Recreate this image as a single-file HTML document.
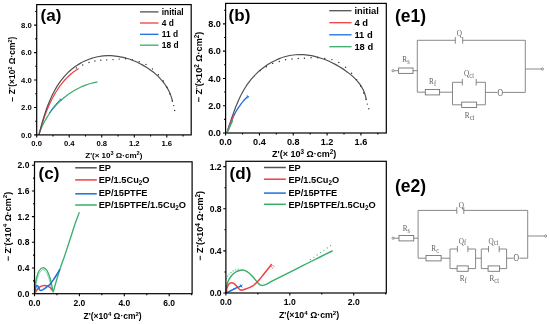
<!DOCTYPE html>
<html lang="en">
<head>
<meta charset="utf-8">
<title>EIS Nyquist plots and equivalent circuits</title>
<style>
html,body{margin:0;padding:0;background:#fff;}
svg{display:block;}
</style>
</head>
<body>
<svg width="550" height="324" viewBox="0 0 550 324">
<rect width="550" height="324" fill="#fff"/>
<g id="pa">
<path d="M39.07 134.24 C39.23 133.79 39.68 132.45 40.01 131.57 C40.34 130.69 40.68 129.81 41.04 128.94 C41.4 128.07 41.78 127.2 42.17 126.34 C42.56 125.49 42.96 124.63 43.38 123.79 C43.8 122.95 44.24 122.11 44.69 121.28 C45.13 120.45 45.6 119.63 46.08 118.82 C46.55 118 47.05 117.2 47.55 116.4 C48.06 115.61 48.58 114.82 49.11 114.04 C49.64 113.27 50.19 112.5 50.75 111.74 C51.31 110.98 51.88 110.23 52.46 109.49 C53.05 108.76 53.65 108.03 54.26 107.31 C54.87 106.59 55.49 105.89 56.12 105.19 C56.76 104.5 57.4 103.81 58.06 103.14 C58.72 102.47 59.39 101.81 60.07 101.16 C60.75 100.51 61.44 99.88 62.14 99.26 C62.85 98.63 63.56 98.02 64.29 97.43 C65.01 96.83 65.75 96.25 66.49 95.68 C67.24 95.11 67.99 94.55 68.76 94.01 C69.52 93.47 70.3 92.94 71.08 92.43 C71.87 91.92 72.66 91.42 73.46 90.94 C74.27 90.46 75.08 89.99 75.9 89.54 C76.72 89.09 77.55 88.66 78.39 88.24 C79.23 87.82 80.08 87.42 80.93 87.03 C81.79 86.65 82.65 86.28 83.52 85.93 C84.4 85.58 85.27 85.24 86.16 84.93 C87.05 84.61 87.94 84.31 88.84 84.03 C89.74 83.76 90.65 83.49 91.56 83.25 C92.48 83.01 93.4 82.78 94.33 82.58 C95.26 82.38 96.66 82.12 97.13 82.03" fill="none" stroke="#37AD6B" stroke-width="1.2" stroke-linecap="round" stroke-linejoin="round"/>
<path d="M49.6 112.6 C50.3 111.63 52.47 108.5 53.8 106.8 C55.13 105.1 56.53 103.6 57.6 102.4 C58.67 101.2 59.77 100.07 60.2 99.6" fill="none" stroke="#1A6FDF" stroke-width="1.0" stroke-linecap="round" stroke-linejoin="round"/>
<path d="M59.4 98.9 l1.8 0.4 l-0.4 1.6" stroke="#1A6FDF" stroke-width="0.7" fill="none"/>
<path d="M39.01 134.13 C39.13 133.72 39.49 132.46 39.74 131.62 C39.98 130.78 40.23 129.94 40.49 129.09 C40.74 128.25 41 127.4 41.26 126.55 C41.53 125.7 41.79 124.85 42.06 124 C42.34 123.15 42.61 122.29 42.89 121.44 C43.18 120.59 43.46 119.73 43.75 118.88 C44.05 118.03 44.34 117.18 44.65 116.33 C44.95 115.47 45.26 114.62 45.58 113.78 C45.9 112.93 46.22 112.08 46.55 111.24 C46.88 110.39 47.22 109.55 47.56 108.71 C47.91 107.87 48.26 107.04 48.62 106.2 C48.98 105.37 49.35 104.54 49.73 103.72 C50.1 102.9 50.49 102.08 50.88 101.26 C51.27 100.45 51.67 99.64 52.09 98.84 C52.5 98.03 52.92 97.23 53.35 96.44 C53.78 95.65 54.22 94.87 54.67 94.09 C55.11 93.31 55.57 92.54 56.04 91.78 C56.51 91.01 56.99 90.26 57.49 89.51 C57.98 88.76 58.48 88.02 58.99 87.29 C59.51 86.56 60.03 85.84 60.57 85.13 C61.11 84.42 61.65 83.72 62.22 83.03 C62.78 82.34 63.35 81.66 63.94 80.99 C64.52 80.32 65.12 79.66 65.73 79.01 C66.34 78.36 66.97 77.73 67.61 77.11 C68.24 76.48 68.9 75.87 69.56 75.27 C70.23 74.68 70.91 74.09 71.6 73.52 C72.3 72.95 73.01 72.39 73.73 71.85 C74.45 71.31 75.19 70.78 75.94 70.26 C76.7 69.75 77.87 69.02 78.25 68.77" fill="none" stroke="#F14040" stroke-width="1.2" stroke-linecap="round" stroke-linejoin="round"/>
<path d="M39.18 134.07 C39.34 133.46 39.79 131.63 40.11 130.39 C40.43 129.15 40.75 127.9 41.09 126.64 C41.43 125.38 41.77 124.1 42.13 122.82 C42.49 121.55 42.86 120.26 43.25 118.97 C43.63 117.68 44.03 116.39 44.44 115.09 C44.86 113.8 45.28 112.5 45.72 111.21 C46.17 109.91 46.62 108.62 47.1 107.33 C47.57 106.04 48.07 104.75 48.58 103.48 C49.09 102.2 49.62 100.93 50.17 99.66 C50.72 98.4 51.29 97.15 51.88 95.91 C52.47 94.67 53.08 93.44 53.71 92.23 C54.35 91.02 55 89.82 55.68 88.65 C56.36 87.47 57.07 86.31 57.8 85.17 C58.53 84.03 59.28 82.91 60.07 81.81 C60.85 80.72 61.65 79.64 62.49 78.6 C63.33 77.55 64.19 76.53 65.08 75.54 C65.98 74.55 66.9 73.59 67.85 72.66 C68.81 71.73 69.79 70.83 70.81 69.97 C71.82 69.1 72.86 68.27 73.93 67.47 C75 66.68 76.09 65.92 77.21 65.19 C78.33 64.47 79.47 63.78 80.64 63.14 C81.8 62.49 82.98 61.88 84.19 61.31 C85.39 60.74 86.61 60.21 87.85 59.72 C89.09 59.23 90.34 58.78 91.61 58.38 C92.87 57.97 94.16 57.61 95.45 57.29 C96.74 56.98 98.04 56.7 99.35 56.48 C100.66 56.25 101.98 56.07 103.3 55.94 C104.63 55.81 105.96 55.73 107.29 55.69 C108.62 55.65 109.96 55.67 111.3 55.72 C112.64 55.78 113.98 55.88 115.31 56.03 C116.65 56.18 117.98 56.37 119.31 56.6 C120.64 56.83 121.97 57.1 123.29 57.42 C124.61 57.73 125.93 58.08 127.24 58.47 C128.54 58.86 129.84 59.29 131.13 59.76 C132.41 60.22 133.69 60.72 134.95 61.25 C136.21 61.79 137.46 62.36 138.69 62.96 C139.92 63.56 141.14 64.19 142.34 64.85 C143.54 65.51 144.72 66.21 145.88 66.92 C147.04 67.64 148.18 68.39 149.3 69.17 C150.41 69.95 151.5 70.75 152.57 71.58 C153.63 72.42 154.67 73.28 155.68 74.16 C156.68 75.05 157.66 75.97 158.61 76.91 C159.55 77.86 160.46 78.83 161.33 79.83 C162.21 80.82 163.05 81.85 163.84 82.91 C164.64 83.96 165.4 85.04 166.11 86.15 C166.82 87.26 167.49 88.4 168.12 89.56 C168.74 90.72 169.32 91.91 169.85 93.13 C170.38 94.35 170.86 95.59 171.28 96.87 C171.71 98.14 172.21 100.12 172.4 100.77" fill="none" stroke="#515151" stroke-width="1.2" stroke-linecap="round" stroke-linejoin="round"/>
<circle cx="76.4" cy="67.9" r="0.68" fill="#2a2a2a"/>
<circle cx="82.7" cy="65" r="0.68" fill="#2a2a2a"/>
<circle cx="89" cy="62.5" r="0.68" fill="#2a2a2a"/>
<circle cx="94.9" cy="61" r="0.68" fill="#2a2a2a"/>
<circle cx="100.8" cy="60.3" r="0.68" fill="#2a2a2a"/>
<circle cx="106.7" cy="59.9" r="0.68" fill="#2a2a2a"/>
<circle cx="113" cy="59.6" r="0.68" fill="#2a2a2a"/>
<circle cx="119.2" cy="59.1" r="0.68" fill="#2a2a2a"/>
<circle cx="125.6" cy="58.8" r="0.68" fill="#2a2a2a"/>
<circle cx="132.2" cy="59.6" r="0.68" fill="#2a2a2a"/>
<circle cx="139.2" cy="61.8" r="0.68" fill="#2a2a2a"/>
<circle cx="146" cy="64.4" r="0.68" fill="#2a2a2a"/>
<circle cx="152.5" cy="68.9" r="0.68" fill="#2a2a2a"/>
<circle cx="158.4" cy="74.8" r="0.68" fill="#2a2a2a"/>
<circle cx="163.3" cy="81" r="0.68" fill="#2a2a2a"/>
<circle cx="166.9" cy="87.2" r="0.68" fill="#2a2a2a"/>
<circle cx="169.9" cy="94" r="0.68" fill="#2a2a2a"/>
<circle cx="172.3" cy="101.2" r="0.68" fill="#2a2a2a"/>
<circle cx="173.7" cy="105.6" r="0.68" fill="#2a2a2a"/>
<circle cx="174.7" cy="110.5" r="0.68" fill="#2a2a2a"/>
<rect x="36.7" y="4.6" width="154.5" height="130.3" fill="none" stroke="#000" stroke-width="1.2"/>
<path d="M36.7 134.9 v2.6 M69.23 134.9 v2.6 M101.75 134.9 v2.6 M134.28 134.9 v2.6 M166.81 134.9 v2.6 M52.96 134.9 v1.5 M85.49 134.9 v1.5 M118.02 134.9 v1.5 M150.54 134.9 v1.5 M183.07 134.9 v1.5 " stroke="#000" stroke-width="1.1" fill="none"/>
<text x="36.7" y="146.1" font-family="'Liberation Sans', Arial, sans-serif" font-size="7.7" font-weight="bold" fill="#000" text-anchor="middle">0.0</text>
<text x="69.23" y="146.1" font-family="'Liberation Sans', Arial, sans-serif" font-size="7.7" font-weight="bold" fill="#000" text-anchor="middle">0.4</text>
<text x="101.75" y="146.1" font-family="'Liberation Sans', Arial, sans-serif" font-size="7.7" font-weight="bold" fill="#000" text-anchor="middle">0.8</text>
<text x="134.28" y="146.1" font-family="'Liberation Sans', Arial, sans-serif" font-size="7.7" font-weight="bold" fill="#000" text-anchor="middle">1.2</text>
<text x="166.81" y="146.1" font-family="'Liberation Sans', Arial, sans-serif" font-size="7.7" font-weight="bold" fill="#000" text-anchor="middle">1.6</text>
<path d="M36.7 134.9 h-2.6 M36.7 107.47 h-2.6 M36.7 80.04 h-2.6 M36.7 52.61 h-2.6 M36.7 25.17 h-2.6 M36.7 121.18 h-1.5 M36.7 93.75 h-1.5 M36.7 66.32 h-1.5 M36.7 38.89 h-1.5 M36.7 11.46 h-1.5 " stroke="#000" stroke-width="1.1" fill="none"/>
<text x="31.8" y="137.66" font-family="'Liberation Sans', Arial, sans-serif" font-size="7.7" font-weight="bold" fill="#000" text-anchor="end">0.0</text>
<text x="31.8" y="110.23" font-family="'Liberation Sans', Arial, sans-serif" font-size="7.7" font-weight="bold" fill="#000" text-anchor="end">2.0</text>
<text x="31.8" y="82.79" font-family="'Liberation Sans', Arial, sans-serif" font-size="7.7" font-weight="bold" fill="#000" text-anchor="end">4.0</text>
<text x="31.8" y="55.36" font-family="'Liberation Sans', Arial, sans-serif" font-size="7.7" font-weight="bold" fill="#000" text-anchor="end">6.0</text>
<text x="31.8" y="27.93" font-family="'Liberation Sans', Arial, sans-serif" font-size="7.7" font-weight="bold" fill="#000" text-anchor="end">8.0</text>
<text x="40.6" y="20.7" font-family="'Liberation Sans', Arial, sans-serif" font-size="17" font-weight="bold" fill="#000" text-anchor="start">(a)</text>
<line x1="140" y1="11.9" x2="158.5" y2="11.9" stroke="#515151" stroke-width="1.3"/>
<text x="161.8" y="14.9" font-family="'Liberation Sans', Arial, sans-serif" font-size="8.4" font-weight="bold" fill="#000" text-anchor="start">initial</text>
<line x1="140" y1="23" x2="158.5" y2="23" stroke="#F14040" stroke-width="1.3"/>
<text x="161.8" y="26" font-family="'Liberation Sans', Arial, sans-serif" font-size="8.4" font-weight="bold" fill="#000" text-anchor="start">4 d</text>
<line x1="140" y1="34.3" x2="158.5" y2="34.3" stroke="#1A6FDF" stroke-width="1.3"/>
<text x="161.8" y="37.3" font-family="'Liberation Sans', Arial, sans-serif" font-size="8.4" font-weight="bold" fill="#000" text-anchor="start">11 d</text>
<line x1="140" y1="45.2" x2="158.5" y2="45.2" stroke="#37AD6B" stroke-width="1.3"/>
<text x="161.8" y="48.2" font-family="'Liberation Sans', Arial, sans-serif" font-size="8.4" font-weight="bold" fill="#000" text-anchor="start">18 d</text>
<text x="113.8" y="157.6" font-family="'Liberation Sans', Arial, sans-serif" font-size="8" font-weight="bold" fill="#000" text-anchor="middle">Z'(× 10<tspan font-size="5.6" dy="-2.8">3</tspan><tspan dy="2.8"> Ω·cm<tspan font-size="5.6" dy="-2.8">2</tspan><tspan dy="2.8">)</tspan></tspan></text>
<g transform="translate(15.2 69) rotate(-90)">
<text x="0" y="0" font-family="'Liberation Sans', Arial, sans-serif" font-size="8.35" font-weight="bold" fill="#000" text-anchor="middle">− Z<tspan font-size="5.68" dy="-1.92">''</tspan><tspan dy="1.92" dx="-0.25">(</tspan>×10<tspan font-size="5.84" dy="-2.92">2</tspan><tspan dy="2.92"> Ω·cm<tspan font-size="5.84" dy="-2.92">2</tspan><tspan dy="2.92">)</tspan></tspan></text>
</g>
</g>
<g id="pb">
<path d="M227.36 131.55 C227.56 130.92 228.16 129.03 228.56 127.75 C228.96 126.48 229.37 125.2 229.78 123.92 C230.19 122.64 230.61 121.35 231.03 120.07 C231.45 118.78 231.88 117.49 232.33 116.2 C232.77 114.92 233.22 113.63 233.68 112.35 C234.15 111.06 234.62 109.78 235.11 108.5 C235.6 107.23 236.1 105.96 236.62 104.69 C237.14 103.43 237.68 102.17 238.23 100.93 C238.79 99.68 239.36 98.44 239.95 97.21 C240.55 95.99 241.16 94.77 241.8 93.57 C242.44 92.37 243.1 91.18 243.79 90.01 C244.47 88.83 245.18 87.68 245.92 86.54 C246.66 85.4 247.42 84.28 248.22 83.18 C249.01 82.08 249.84 81 250.69 79.94 C251.55 78.88 252.44 77.84 253.35 76.83 C254.27 75.82 255.22 74.83 256.19 73.87 C257.17 72.91 258.17 71.98 259.2 71.07 C260.22 70.17 261.28 69.29 262.35 68.44 C263.43 67.6 264.53 66.78 265.65 66 C266.77 65.22 267.91 64.47 269.07 63.76 C270.23 63.05 271.41 62.37 272.61 61.73 C273.8 61.09 275.02 60.49 276.25 59.93 C277.48 59.37 278.72 58.84 279.98 58.36 C281.23 57.88 282.51 57.44 283.79 57.05 C285.07 56.65 286.36 56.3 287.66 56 C288.96 55.7 290.27 55.44 291.59 55.23 C292.9 55.02 294.22 54.86 295.55 54.75 C296.88 54.64 298.21 54.58 299.55 54.57 C300.88 54.56 302.22 54.6 303.56 54.68 C304.89 54.76 306.24 54.89 307.57 55.06 C308.91 55.23 310.25 55.45 311.58 55.7 C312.92 55.96 314.25 56.25 315.57 56.59 C316.9 56.92 318.22 57.29 319.53 57.7 C320.85 58.11 322.16 58.55 323.45 59.03 C324.75 59.5 326.04 60.01 327.32 60.55 C328.6 61.09 329.87 61.67 331.12 62.27 C332.38 62.86 333.62 63.49 334.85 64.15 C336.08 64.8 337.29 65.48 338.49 66.19 C339.68 66.89 340.86 67.62 342.03 68.37 C343.19 69.11 344.33 69.88 345.45 70.67 C346.58 71.46 347.68 72.27 348.75 73.1 C349.83 73.93 350.88 74.78 351.89 75.67 C352.9 76.55 353.89 77.45 354.83 78.39 C355.77 79.33 356.67 80.29 357.53 81.29 C358.38 82.29 359.2 83.32 359.96 84.39 C360.71 85.46 361.42 86.57 362.07 87.71 C362.72 88.86 363.32 90.04 363.84 91.27 C364.37 92.5 364.84 93.77 365.23 95.09 C365.62 96.41 366.04 98.51 366.2 99.19" fill="none" stroke="#515151" stroke-width="1.2" stroke-linecap="round" stroke-linejoin="round"/>
<path d="M227.31 131.61 C227.42 131.27 227.77 130.24 228 129.56 C228.24 128.88 228.48 128.2 228.73 127.53 C228.97 126.85 229.23 126.17 229.48 125.5 C229.74 124.82 230 124.15 230.27 123.48 C230.54 122.81 230.82 122.14 231.1 121.47 C231.38 120.81 231.67 120.14 231.97 119.48 C232.26 118.82 232.56 118.17 232.87 117.51 C233.18 116.86 233.5 116.21 233.82 115.57 C234.15 114.92 234.48 114.28 234.82 113.64 C235.16 113.01 235.51 112.38 235.86 111.75 C236.22 111.13 236.58 110.51 236.96 109.89 C237.33 109.28 237.71 108.67 238.1 108.06 C238.49 107.46 238.89 106.86 239.3 106.27 C239.71 105.68 240.13 105.1 240.56 104.52 C240.99 103.95 241.43 103.38 241.88 102.81 C242.33 102.25 242.79 101.7 243.26 101.15 C243.73 100.61 244.21 100.07 244.7 99.54 C245.2 99.01 245.7 98.49 246.21 97.98 C246.73 97.47 247.53 96.72 247.79 96.47" fill="none" stroke="#1A6FDF" stroke-width="1.3" stroke-linecap="round" stroke-linejoin="round"/>
<path d="M227.4 131.6 C227.97 130.17 229.72 125.78 230.8 123 C231.88 120.22 233.38 116.25 233.9 114.9" fill="none" stroke="#F14040" stroke-width="1.3" stroke-linecap="round" stroke-linejoin="round"/>
<path d="M227.6 131.8 C228.03 130.83 229.38 127.83 230.2 126 C231.02 124.17 232.12 121.67 232.5 120.8" fill="none" stroke="#37AD6B" stroke-width="1.4" stroke-linecap="round" stroke-linejoin="round"/>
<circle cx="260.2" cy="70.6" r="0.68" fill="#2a2a2a"/>
<circle cx="266.4" cy="66.7" r="0.68" fill="#2a2a2a"/>
<circle cx="272.7" cy="63.4" r="0.68" fill="#2a2a2a"/>
<circle cx="279.3" cy="61.5" r="0.68" fill="#2a2a2a"/>
<circle cx="285.6" cy="59.7" r="0.68" fill="#2a2a2a"/>
<circle cx="292" cy="59" r="0.68" fill="#2a2a2a"/>
<circle cx="298.2" cy="58.5" r="0.68" fill="#2a2a2a"/>
<circle cx="304.4" cy="58.2" r="0.68" fill="#2a2a2a"/>
<circle cx="311.1" cy="57.8" r="0.68" fill="#2a2a2a"/>
<circle cx="317.8" cy="57.8" r="0.68" fill="#2a2a2a"/>
<circle cx="324.8" cy="58.4" r="0.68" fill="#2a2a2a"/>
<circle cx="331.9" cy="59.6" r="0.68" fill="#2a2a2a"/>
<circle cx="338.8" cy="62.5" r="0.68" fill="#2a2a2a"/>
<circle cx="345.6" cy="67.3" r="0.68" fill="#2a2a2a"/>
<circle cx="351.6" cy="73.3" r="0.68" fill="#2a2a2a"/>
<circle cx="356.6" cy="79.6" r="0.68" fill="#2a2a2a"/>
<circle cx="360.6" cy="86" r="0.68" fill="#2a2a2a"/>
<circle cx="363.6" cy="93" r="0.68" fill="#2a2a2a"/>
<circle cx="366" cy="99.5" r="0.68" fill="#2a2a2a"/>
<circle cx="367.3" cy="104.1" r="0.68" fill="#2a2a2a"/>
<circle cx="368.8" cy="108.8" r="0.68" fill="#2a2a2a"/>
<path d="M246.6 95.4 l2.2 1.2 l-1.2 1.8" stroke="#1A6FDF" stroke-width="0.7" fill="none"/>
<rect x="225.6" y="3.4" width="160.7" height="129.6" fill="none" stroke="#000" stroke-width="1.2"/>
<path d="M225.6 133 v2.6 M259.43 133 v2.6 M293.26 133 v2.6 M327.09 133 v2.6 M360.93 133 v2.6 M242.52 133 v1.5 M276.35 133 v1.5 M310.18 133 v1.5 M344.01 133 v1.5 M377.84 133 v1.5 " stroke="#000" stroke-width="1.1" fill="none"/>
<text x="225.6" y="145.3" font-family="'Liberation Sans', Arial, sans-serif" font-size="9.1" font-weight="bold" fill="#000" text-anchor="middle">0.0</text>
<text x="259.43" y="145.3" font-family="'Liberation Sans', Arial, sans-serif" font-size="9.1" font-weight="bold" fill="#000" text-anchor="middle">0.4</text>
<text x="293.26" y="145.3" font-family="'Liberation Sans', Arial, sans-serif" font-size="9.1" font-weight="bold" fill="#000" text-anchor="middle">0.8</text>
<text x="327.09" y="145.3" font-family="'Liberation Sans', Arial, sans-serif" font-size="9.1" font-weight="bold" fill="#000" text-anchor="middle">1.2</text>
<text x="360.93" y="145.3" font-family="'Liberation Sans', Arial, sans-serif" font-size="9.1" font-weight="bold" fill="#000" text-anchor="middle">1.6</text>
<path d="M225.6 133 h-2.6 M225.6 105.72 h-2.6 M225.6 78.43 h-2.6 M225.6 51.15 h-2.6 M225.6 23.86 h-2.6 M225.6 119.36 h-1.5 M225.6 92.07 h-1.5 M225.6 64.79 h-1.5 M225.6 37.51 h-1.5 M225.6 10.22 h-1.5 " stroke="#000" stroke-width="1.1" fill="none"/>
<text x="220.8" y="136.26" font-family="'Liberation Sans', Arial, sans-serif" font-size="9.1" font-weight="bold" fill="#000" text-anchor="end">0.0</text>
<text x="220.8" y="108.97" font-family="'Liberation Sans', Arial, sans-serif" font-size="9.1" font-weight="bold" fill="#000" text-anchor="end">2.0</text>
<text x="220.8" y="81.69" font-family="'Liberation Sans', Arial, sans-serif" font-size="9.1" font-weight="bold" fill="#000" text-anchor="end">4.0</text>
<text x="220.8" y="54.41" font-family="'Liberation Sans', Arial, sans-serif" font-size="9.1" font-weight="bold" fill="#000" text-anchor="end">6.0</text>
<text x="220.8" y="27.12" font-family="'Liberation Sans', Arial, sans-serif" font-size="9.1" font-weight="bold" fill="#000" text-anchor="end">8.0</text>
<text x="228.6" y="20.7" font-family="'Liberation Sans', Arial, sans-serif" font-size="17" font-weight="bold" fill="#000" text-anchor="start">(b)</text>
<line x1="329.3" y1="10.7" x2="351.5" y2="10.7" stroke="#515151" stroke-width="1.3"/>
<text x="354.4" y="14.1" font-family="'Liberation Sans', Arial, sans-serif" font-size="9.4" font-weight="bold" fill="#000" text-anchor="start">initial</text>
<line x1="329.3" y1="22.7" x2="351.5" y2="22.7" stroke="#F14040" stroke-width="1.3"/>
<text x="354.4" y="26.1" font-family="'Liberation Sans', Arial, sans-serif" font-size="9.4" font-weight="bold" fill="#000" text-anchor="start">4 d</text>
<line x1="329.3" y1="34.8" x2="351.5" y2="34.8" stroke="#1A6FDF" stroke-width="1.3"/>
<text x="354.4" y="38.2" font-family="'Liberation Sans', Arial, sans-serif" font-size="9.4" font-weight="bold" fill="#000" text-anchor="start">11 d</text>
<line x1="329.3" y1="46.7" x2="351.5" y2="46.7" stroke="#37AD6B" stroke-width="1.3"/>
<text x="354.4" y="50.1" font-family="'Liberation Sans', Arial, sans-serif" font-size="9.4" font-weight="bold" fill="#000" text-anchor="start">18 d</text>
<text x="304.2" y="157.4" font-family="'Liberation Sans', Arial, sans-serif" font-size="9" font-weight="bold" fill="#000" text-anchor="middle">Z'(× 10<tspan font-size="6.3" dy="-3.15">3</tspan><tspan dy="3.15"> Ω·cm<tspan font-size="6.3" dy="-3.15">2</tspan><tspan dy="3.15">)</tspan></tspan></text>
<g transform="translate(202.3 67) rotate(-90)">
<text x="0" y="0" font-family="'Liberation Sans', Arial, sans-serif" font-size="9.1" font-weight="bold" fill="#000" text-anchor="middle">− Z<tspan font-size="6.19" dy="-2.09">''</tspan><tspan dy="2.09" dx="-0.27">(</tspan>×10<tspan font-size="6.37" dy="-3.18">2</tspan><tspan dy="3.18"> Ω·cm<tspan font-size="6.37" dy="-3.18">2</tspan><tspan dy="3.18">)</tspan></tspan></text>
</g>
</g>
<g id="pc">
<path d="M35.6 288 C35.8 286.75 36.2 282.92 36.8 280.5 C37.4 278.08 38.17 275.32 39.2 273.5 C40.23 271.68 41.77 269.77 43 269.6 C44.23 269.43 45.57 270.85 46.6 272.5 C47.63 274.15 48.47 277.17 49.2 279.5 C49.93 281.83 50.48 284.58 51 286.5 C51.52 288.42 52.08 290.25 52.3 291" fill="none" stroke="#37AD6B" stroke-width="0.9" stroke-linecap="round" stroke-linejoin="round" stroke-dasharray="0.1 1.2"/>
<path d="M34.9 292.5 C34.97 291.25 35.02 287.5 35.3 285 C35.58 282.5 35.98 279.83 36.6 277.5 C37.22 275.17 37.93 272.65 39 271 C40.07 269.35 41.67 267.68 43 267.6 C44.33 267.52 45.83 268.77 47 270.5 C48.17 272.23 49.17 275.33 50 278 C50.83 280.67 51.47 284.17 52 286.5 C52.53 288.83 52.77 291.92 53.2 292 C53.63 292.08 53.88 289.5 54.6 287 C55.32 284.5 56.43 280.5 57.5 277 C58.57 273.5 59.82 269.5 61 266 C62.18 262.5 63.1 260.42 64.6 256 C66.1 251.58 68.27 244.83 70 239.5 C71.73 234.17 73.47 228.48 75 224 C76.53 219.52 78.5 214.5 79.2 212.6" fill="none" stroke="#37AD6B" stroke-width="1.3" stroke-linecap="round" stroke-linejoin="round"/>
<path d="M35.2 292.6 C35.42 292.25 35.87 291.33 36.5 290.5 C37.13 289.67 38.08 288.37 39 287.6 C39.92 286.83 41 286.27 42 285.9 C43 285.53 44 285.35 45 285.4 C46 285.45 47.12 285.8 48 286.2 C48.88 286.6 49.67 287.23 50.3 287.8 C50.93 288.37 51.55 289.3 51.8 289.6" fill="none" stroke="#F14040" stroke-width="1.5" stroke-linecap="round" stroke-linejoin="round"/>
<path d="M35 291.2 C35.1 290.67 35.3 288.93 35.6 288 C35.9 287.07 36.37 285.83 36.8 285.6 C37.23 285.37 37.77 285.97 38.2 286.6 C38.63 287.23 38.97 288.73 39.4 289.4 C39.83 290.07 40.2 290.57 40.8 290.6 C41.4 290.63 42.13 290.1 43 289.6 C43.87 289.1 44.87 288.47 46 287.6 C47.13 286.73 48.63 285.6 49.8 284.4 C50.97 283.2 51.88 281.97 53 280.4 C54.12 278.83 55.4 276.8 56.5 275 C57.6 273.2 59.08 270.5 59.6 269.6" fill="none" stroke="#1A6FDF" stroke-width="1.5" stroke-linecap="round" stroke-linejoin="round"/>
<rect x="34.5" y="161.8" width="157.6" height="131.9" fill="none" stroke="#000" stroke-width="1.2"/>
<path d="M34.5 293.7 v2.6 M79.4 293.7 v2.6 M124.3 293.7 v2.6 M169.2 293.7 v2.6 M56.95 293.7 v1.5 M101.85 293.7 v1.5 M146.75 293.7 v1.5 M191.65 293.7 v1.5 " stroke="#000" stroke-width="1.1" fill="none"/>
<text x="34.5" y="306.3" font-family="'Liberation Sans', Arial, sans-serif" font-size="8.5" font-weight="bold" fill="#000" text-anchor="middle">0.0</text>
<text x="79.4" y="306.3" font-family="'Liberation Sans', Arial, sans-serif" font-size="8.5" font-weight="bold" fill="#000" text-anchor="middle">2.0</text>
<text x="124.3" y="306.3" font-family="'Liberation Sans', Arial, sans-serif" font-size="8.5" font-weight="bold" fill="#000" text-anchor="middle">4.0</text>
<text x="169.2" y="306.3" font-family="'Liberation Sans', Arial, sans-serif" font-size="8.5" font-weight="bold" fill="#000" text-anchor="middle">6.0</text>
<path d="M34.5 293.7 h-2.6 M34.5 268.01 h-2.6 M34.5 242.31 h-2.6 M34.5 216.62 h-2.6 M34.5 190.93 h-2.6 M34.5 165.24 h-2.6 M34.5 280.85 h-1.5 M34.5 255.16 h-1.5 M34.5 229.47 h-1.5 M34.5 203.78 h-1.5 M34.5 178.08 h-1.5 " stroke="#000" stroke-width="1.1" fill="none"/>
<text x="29.4" y="296.74" font-family="'Liberation Sans', Arial, sans-serif" font-size="8.5" font-weight="bold" fill="#000" text-anchor="end">0.0</text>
<text x="29.4" y="271.05" font-family="'Liberation Sans', Arial, sans-serif" font-size="8.5" font-weight="bold" fill="#000" text-anchor="end">0.4</text>
<text x="29.4" y="245.36" font-family="'Liberation Sans', Arial, sans-serif" font-size="8.5" font-weight="bold" fill="#000" text-anchor="end">0.8</text>
<text x="29.4" y="219.66" font-family="'Liberation Sans', Arial, sans-serif" font-size="8.5" font-weight="bold" fill="#000" text-anchor="end">1.2</text>
<text x="29.4" y="193.97" font-family="'Liberation Sans', Arial, sans-serif" font-size="8.5" font-weight="bold" fill="#000" text-anchor="end">1.6</text>
<text x="29.4" y="168.28" font-family="'Liberation Sans', Arial, sans-serif" font-size="8.5" font-weight="bold" fill="#000" text-anchor="end">2.0</text>
<text x="38.6" y="178.7" font-family="'Liberation Sans', Arial, sans-serif" font-size="17" font-weight="bold" fill="#000" text-anchor="start">(c)</text>
<line x1="75.2" y1="167.8" x2="96.8" y2="167.8" stroke="#515151" stroke-width="1.5"/>
<text x="98.7" y="171.1" font-family="'Liberation Sans', Arial, sans-serif" font-size="9.25" font-weight="bold" fill="#000" text-anchor="start">EP</text>
<line x1="75.2" y1="179.9" x2="96.8" y2="179.9" stroke="#F14040" stroke-width="1.5"/>
<text x="98.7" y="183" font-family="'Liberation Sans', Arial, sans-serif" font-size="9.25" font-weight="bold" fill="#000" text-anchor="start">EP/1.5Cu<tspan font-size="6.29" dy="2.04">2</tspan><tspan dy="-2.04">O</tspan></text>
<line x1="75.2" y1="193.8" x2="96.8" y2="193.8" stroke="#1A6FDF" stroke-width="1.5"/>
<text x="98.7" y="196.4" font-family="'Liberation Sans', Arial, sans-serif" font-size="9.25" font-weight="bold" fill="#000" text-anchor="start">EP/15PTFE</text>
<line x1="75.2" y1="205" x2="96.8" y2="205" stroke="#37AD6B" stroke-width="1.5"/>
<text x="98.7" y="208.1" font-family="'Liberation Sans', Arial, sans-serif" font-size="9.25" font-weight="bold" fill="#000" text-anchor="start">EP/15PTFE/1.5Cu<tspan font-size="6.29" dy="2.04">2</tspan><tspan dy="-2.04">O</tspan></text>
<text x="112.6" y="318.8" font-family="'Liberation Sans', Arial, sans-serif" font-size="8.5" font-weight="bold" fill="#000" text-anchor="middle">Z'(×10<tspan font-size="5.95" dy="-2.97">4</tspan><tspan dy="2.97"> Ω·cm<tspan font-size="5.95" dy="-2.97">2</tspan><tspan dy="2.97">)</tspan></tspan></text>
<g transform="translate(10.6 226.5) rotate(-90)">
<text x="0" y="0" font-family="'Liberation Sans', Arial, sans-serif" font-size="8.95" font-weight="bold" fill="#000" text-anchor="middle">− Z<tspan font-size="6.09" dy="-2.06">''</tspan><tspan dy="2.06" dx="-0.27">(</tspan>×10<tspan font-size="6.26" dy="-3.13">4</tspan><tspan dy="3.13"> Ω·cm<tspan font-size="6.26" dy="-3.13">2</tspan><tspan dy="3.13">)</tspan></tspan></text>
</g>
</g>
<g id="pd">
<circle cx="226.5" cy="278.6" r="0.6" fill="#37AD6B"/>
<circle cx="227.6" cy="276.2" r="0.6" fill="#37AD6B"/>
<circle cx="229" cy="274.1" r="0.6" fill="#37AD6B"/>
<circle cx="230.9" cy="272.4" r="0.6" fill="#37AD6B"/>
<circle cx="233.2" cy="270.9" r="0.6" fill="#37AD6B"/>
<circle cx="235.7" cy="269.8" r="0.6" fill="#37AD6B"/>
<circle cx="238.2" cy="269.1" r="0.6" fill="#37AD6B"/>
<circle cx="310.4" cy="259.6" r="0.6" fill="#37AD6B"/>
<circle cx="313.77" cy="257.27" r="0.6" fill="#37AD6B"/>
<circle cx="317.13" cy="254.93" r="0.6" fill="#37AD6B"/>
<circle cx="320.5" cy="252.6" r="0.6" fill="#37AD6B"/>
<circle cx="323.87" cy="250.27" r="0.6" fill="#37AD6B"/>
<circle cx="327.23" cy="247.93" r="0.6" fill="#37AD6B"/>
<circle cx="330.6" cy="245.6" r="0.6" fill="#37AD6B"/>
<path d="M226.2 292 C226.27 291.07 226.27 288.23 226.6 286.4 C226.93 284.57 227.43 282.73 228.2 281 C228.97 279.27 229.95 277.5 231.2 276 C232.45 274.5 234.17 272.97 235.7 272 C237.23 271.03 238.93 270.47 240.4 270.2 C241.87 269.93 243.07 269.93 244.5 270.4 C245.93 270.87 247.5 271.82 249 273 C250.5 274.18 252.08 275.92 253.5 277.5 C254.92 279.08 256.42 281.28 257.5 282.5 C258.58 283.72 259.17 284.32 260 284.8 C260.83 285.28 261.5 285.47 262.5 285.4 C263.5 285.33 264.42 285.1 266 284.4 C267.58 283.7 269.33 282.58 272 281.2 C274.67 279.82 278.17 278.03 282 276.1 C285.83 274.17 290.33 271.95 295 269.6 C299.67 267.25 305.67 264.18 310 262 C314.33 259.82 317.3 258.33 321 256.5 C324.7 254.67 330.33 251.92 332.2 251" fill="none" stroke="#37AD6B" stroke-width="1.4" stroke-linecap="round" stroke-linejoin="round"/>
<path d="M226.3 292.2 C226.42 291.5 226.55 289.37 227 288 C227.45 286.63 228.28 284.87 229 284 C229.72 283.13 230.47 282.87 231.3 282.8 C232.13 282.73 233.05 282.97 234 283.6 C234.95 284.23 236.08 285.63 237 286.6 C237.92 287.57 238.75 288.8 239.5 289.4 C240.25 290 240.58 290.23 241.5 290.2 C242.42 290.17 243.62 289.67 245 289.2 C246.38 288.73 248.3 288.1 249.8 287.4 C251.3 286.7 252.47 286.23 254 285 C255.53 283.77 257.42 281.75 259 280 C260.58 278.25 262.08 276.25 263.5 274.5 C264.92 272.75 266.18 271.17 267.5 269.5 C268.82 267.83 270.75 265.33 271.4 264.5" fill="none" stroke="#F14040" stroke-width="1.5" stroke-linecap="round" stroke-linejoin="round"/>
<circle cx="271.6" cy="266.6" r="0.5" fill="#F14040"/>
<circle cx="273" cy="265.6" r="0.5" fill="#F14040"/>
<circle cx="274" cy="266.8" r="0.5" fill="#F14040"/>
<circle cx="272.4" cy="268" r="0.5" fill="#F14040"/>
<path d="M226.4 292.4 C226.83 292.27 227.9 292.07 229 291.6 C230.1 291.13 231.67 290.27 233 289.6 C234.33 288.93 235.62 288.23 237 287.6 C238.38 286.97 240.58 286.1 241.3 285.8" fill="none" stroke="#1A6FDF" stroke-width="1.5" stroke-linecap="round" stroke-linejoin="round"/>
<path d="M240 284.2 l2.2 3.4 M239.6 287.4 l3 -2.6" stroke="#1A6FDF" stroke-width="0.8" fill="none"/>
<rect x="225.9" y="161.3" width="160.4" height="131.7" fill="none" stroke="#000" stroke-width="1.2"/>
<path d="M225.9 293 v2.6 M289.8 293 v2.6 M353.71 293 v2.6 M257.85 293 v1.5 M321.76 293 v1.5 M385.66 293 v1.5 " stroke="#000" stroke-width="1.1" fill="none"/>
<text x="225.9" y="305.4" font-family="'Liberation Sans', Arial, sans-serif" font-size="8.6" font-weight="bold" fill="#000" text-anchor="middle">0.0</text>
<text x="289.8" y="305.4" font-family="'Liberation Sans', Arial, sans-serif" font-size="8.6" font-weight="bold" fill="#000" text-anchor="middle">1.0</text>
<text x="353.71" y="305.4" font-family="'Liberation Sans', Arial, sans-serif" font-size="8.6" font-weight="bold" fill="#000" text-anchor="middle">2.0</text>
<path d="M225.9 293 h-2.6 M225.9 250.88 h-2.6 M225.9 208.76 h-2.6 M225.9 166.64 h-2.6 M225.9 271.94 h-1.5 M225.9 229.82 h-1.5 M225.9 187.7 h-1.5 " stroke="#000" stroke-width="1.1" fill="none"/>
<text x="221.6" y="296.08" font-family="'Liberation Sans', Arial, sans-serif" font-size="8.6" font-weight="bold" fill="#000" text-anchor="end">0.0</text>
<text x="221.6" y="253.96" font-family="'Liberation Sans', Arial, sans-serif" font-size="8.6" font-weight="bold" fill="#000" text-anchor="end">0.4</text>
<text x="221.6" y="211.84" font-family="'Liberation Sans', Arial, sans-serif" font-size="8.6" font-weight="bold" fill="#000" text-anchor="end">0.8</text>
<text x="221.6" y="169.72" font-family="'Liberation Sans', Arial, sans-serif" font-size="8.6" font-weight="bold" fill="#000" text-anchor="end">1.2</text>
<text x="229.6" y="178.7" font-family="'Liberation Sans', Arial, sans-serif" font-size="17" font-weight="bold" fill="#000" text-anchor="start">(d)</text>
<line x1="264" y1="167.5" x2="285.8" y2="167.5" stroke="#515151" stroke-width="1.5"/>
<text x="288.4" y="171" font-family="'Liberation Sans', Arial, sans-serif" font-size="9.25" font-weight="bold" fill="#000" text-anchor="start">EP</text>
<line x1="264" y1="179.2" x2="285.8" y2="179.2" stroke="#F14040" stroke-width="1.5"/>
<text x="288.4" y="182.7" font-family="'Liberation Sans', Arial, sans-serif" font-size="9.25" font-weight="bold" fill="#000" text-anchor="start">EP/1.5Cu<tspan font-size="6.29" dy="2.04">2</tspan><tspan dy="-2.04">O</tspan></text>
<line x1="264" y1="193.1" x2="285.8" y2="193.1" stroke="#1A6FDF" stroke-width="1.5"/>
<text x="288.4" y="196.3" font-family="'Liberation Sans', Arial, sans-serif" font-size="9.25" font-weight="bold" fill="#000" text-anchor="start">EP/15PTFE</text>
<line x1="264" y1="204.3" x2="285.8" y2="204.3" stroke="#37AD6B" stroke-width="1.5"/>
<text x="288.4" y="207.6" font-family="'Liberation Sans', Arial, sans-serif" font-size="9.25" font-weight="bold" fill="#000" text-anchor="start">EP/15PTFE/1.5Cu<tspan font-size="6.29" dy="2.04">2</tspan><tspan dy="-2.04">O</tspan></text>
<text x="309.1" y="318.1" font-family="'Liberation Sans', Arial, sans-serif" font-size="8.8" font-weight="bold" fill="#000" text-anchor="middle">Z'(×10<tspan font-size="6.16" dy="-3.08">4</tspan><tspan dy="3.08"> Ω·cm<tspan font-size="6.16" dy="-3.08">2</tspan><tspan dy="3.08">)</tspan></tspan></text>
<g transform="translate(202.7 225.9) rotate(-90)">
<text x="0" y="0" font-family="'Liberation Sans', Arial, sans-serif" font-size="9" font-weight="bold" fill="#000" text-anchor="middle">− Z<tspan font-size="6.12" dy="-2.07">''</tspan><tspan dy="2.07" dx="-0.27">(</tspan>×10<tspan font-size="6.3" dy="-3.15">4</tspan><tspan dy="3.15"> Ω·cm<tspan font-size="6.3" dy="-3.15">2</tspan><tspan dy="3.15">)</tspan></tspan></text>
</g>
</g>
<text x="394.9" y="21.9" font-family="'Liberation Sans', Arial, sans-serif" font-size="17.5" font-weight="bold" fill="#000" text-anchor="start">(e1)</text>
<g id="e1">
<path d="M394 70.7 H417.3 M417.3 40.3 V92.2 M417.3 40.3 H455.3 M462.7 40.3 H525.3 V92.4 M455.3 37 V43.7 M462.7 37 V43.7 M417.3 92.2 H452.5 M452.5 82.3 V104.8 M452.5 82.3 H462.3 M476.2 82.3 H485.4 V104.8 H452.5 M462.3 79 V85.5 M476.2 79 V85.5 M485.4 92.4 H497.6 M503.2 92.4 H525.3 M525.3 69 H541.4 " fill="none" stroke="#747474" stroke-width="0.85"/>
<rect x="398.6" y="68" width="14.4" height="5.4" fill="#fff" stroke="#747474" stroke-width="0.9"/>
<rect x="425.3" y="89.5" width="14.3" height="5.4" fill="#fff" stroke="#747474" stroke-width="0.9"/>
<rect x="461.7" y="102.1" width="14.9" height="5.4" fill="#fff" stroke="#747474" stroke-width="0.9"/>
<circle cx="393" cy="70.7" r="1.1" fill="#fff" stroke="#747474" stroke-width="0.8"/>
<circle cx="542.4" cy="69" r="1.1" fill="#fff" stroke="#747474" stroke-width="0.8"/>
<text transform="translate(459.4 36.2) scale(0.86 1.06)" font-family="'Liberation Serif', 'Times New Roman', serif" font-size="8.4" fill="#606060" text-anchor="middle">Q</text>
<text transform="translate(406 62.2) scale(0.86 1.06)" font-family="'Liberation Serif', 'Times New Roman', serif" font-size="8.4" fill="#606060" text-anchor="middle">R<tspan font-size="7.56" dy="1.7">s</tspan></text>
<text transform="translate(432.6 84.2) scale(0.86 1.06)" font-family="'Liberation Serif', 'Times New Roman', serif" font-size="8.4" fill="#606060" text-anchor="middle">R<tspan font-size="7.56" dy="1.7">f</tspan></text>
<text transform="translate(469 76.4) scale(0.86 1.06)" font-family="'Liberation Serif', 'Times New Roman', serif" font-size="8.4" fill="#606060" text-anchor="middle">Q<tspan font-size="7.56" dy="1.7">ct</tspan></text>
<text transform="translate(469.6 118.4) scale(0.86 1.06)" font-family="'Liberation Serif', 'Times New Roman', serif" font-size="8.4" fill="#606060" text-anchor="middle">R<tspan font-size="7.56" dy="1.7">ct</tspan></text>
<text transform="translate(500.4 95.6) scale(0.86 1.06)" font-family="'Liberation Serif', 'Times New Roman', serif" font-size="9" fill="#606060" text-anchor="middle">O</text>
</g>
<text x="394.9" y="191.8" font-family="'Liberation Sans', Arial, sans-serif" font-size="17.5" font-weight="bold" fill="#000" text-anchor="start">(e2)</text>
<g id="e2">
<path d="M394 238.2 H418.1 M418.1 210.4 V258.2 M418.1 210.4 H456.8 M463.8 210.4 H527.7 V258.2 M456.8 207.2 V213.8 M463.8 207.2 V213.8 M418.1 258.2 H450 M450 249 V268.6 M450 249 H457.4 M467.9 249 H475.6 V268.6 H450 M457.4 246 V252.2 M467.9 246 V252.2 M475.6 258.2 H481.3 M481.3 249 V268.6 M481.3 249 H488.5 M499.2 249 H506.6 V268.6 H481.3 M488.5 246 V252.2 M499.2 246 V252.2 M506.6 258.2 H513.6 M519.4 258.2 H527.7 M527.7 236 H544.6 " fill="none" stroke="#747474" stroke-width="0.85"/>
<rect x="399" y="235.5" width="14.7" height="5.4" fill="#fff" stroke="#747474" stroke-width="0.9"/>
<rect x="426" y="255.5" width="15.1" height="5.4" fill="#fff" stroke="#747474" stroke-width="0.9"/>
<rect x="457.1" y="265.9" width="11.1" height="5.4" fill="#fff" stroke="#747474" stroke-width="0.9"/>
<rect x="488.1" y="265.9" width="11.5" height="5.4" fill="#fff" stroke="#747474" stroke-width="0.9"/>
<circle cx="393.1" cy="238.2" r="1.1" fill="#fff" stroke="#747474" stroke-width="0.8"/>
<circle cx="545.6" cy="236" r="1.1" fill="#fff" stroke="#747474" stroke-width="0.8"/>
<text transform="translate(461.4 207.8) scale(0.86 1.06)" font-family="'Liberation Serif', 'Times New Roman', serif" font-size="8.4" fill="#606060" text-anchor="middle">Q</text>
<text transform="translate(406.4 231) scale(0.86 1.06)" font-family="'Liberation Serif', 'Times New Roman', serif" font-size="8.4" fill="#606060" text-anchor="middle">R<tspan font-size="7.56" dy="1.7">s</tspan></text>
<text transform="translate(435.2 251) scale(0.86 1.06)" font-family="'Liberation Serif', 'Times New Roman', serif" font-size="8.4" fill="#606060" text-anchor="middle">R<tspan font-size="7.56" dy="1.7">c</tspan></text>
<text transform="translate(462.4 243.6) scale(0.86 1.06)" font-family="'Liberation Serif', 'Times New Roman', serif" font-size="8.4" fill="#606060" text-anchor="middle">Q<tspan font-size="7.56" dy="1.7">f</tspan></text>
<text transform="translate(493.4 243.6) scale(0.86 1.06)" font-family="'Liberation Serif', 'Times New Roman', serif" font-size="8.4" fill="#606060" text-anchor="middle">Q<tspan font-size="7.56" dy="1.7">ct</tspan></text>
<text transform="translate(463.2 281) scale(0.86 1.06)" font-family="'Liberation Serif', 'Times New Roman', serif" font-size="8.4" fill="#606060" text-anchor="middle">R<tspan font-size="7.56" dy="1.7">f</tspan></text>
<text transform="translate(494.2 281) scale(0.86 1.06)" font-family="'Liberation Serif', 'Times New Roman', serif" font-size="8.4" fill="#606060" text-anchor="middle">R<tspan font-size="7.56" dy="1.7">ct</tspan></text>
<text transform="translate(516.4 261.4) scale(0.86 1.06)" font-family="'Liberation Serif', 'Times New Roman', serif" font-size="9" fill="#606060" text-anchor="middle">O</text>
</g>
</svg>
</body>
</html>
